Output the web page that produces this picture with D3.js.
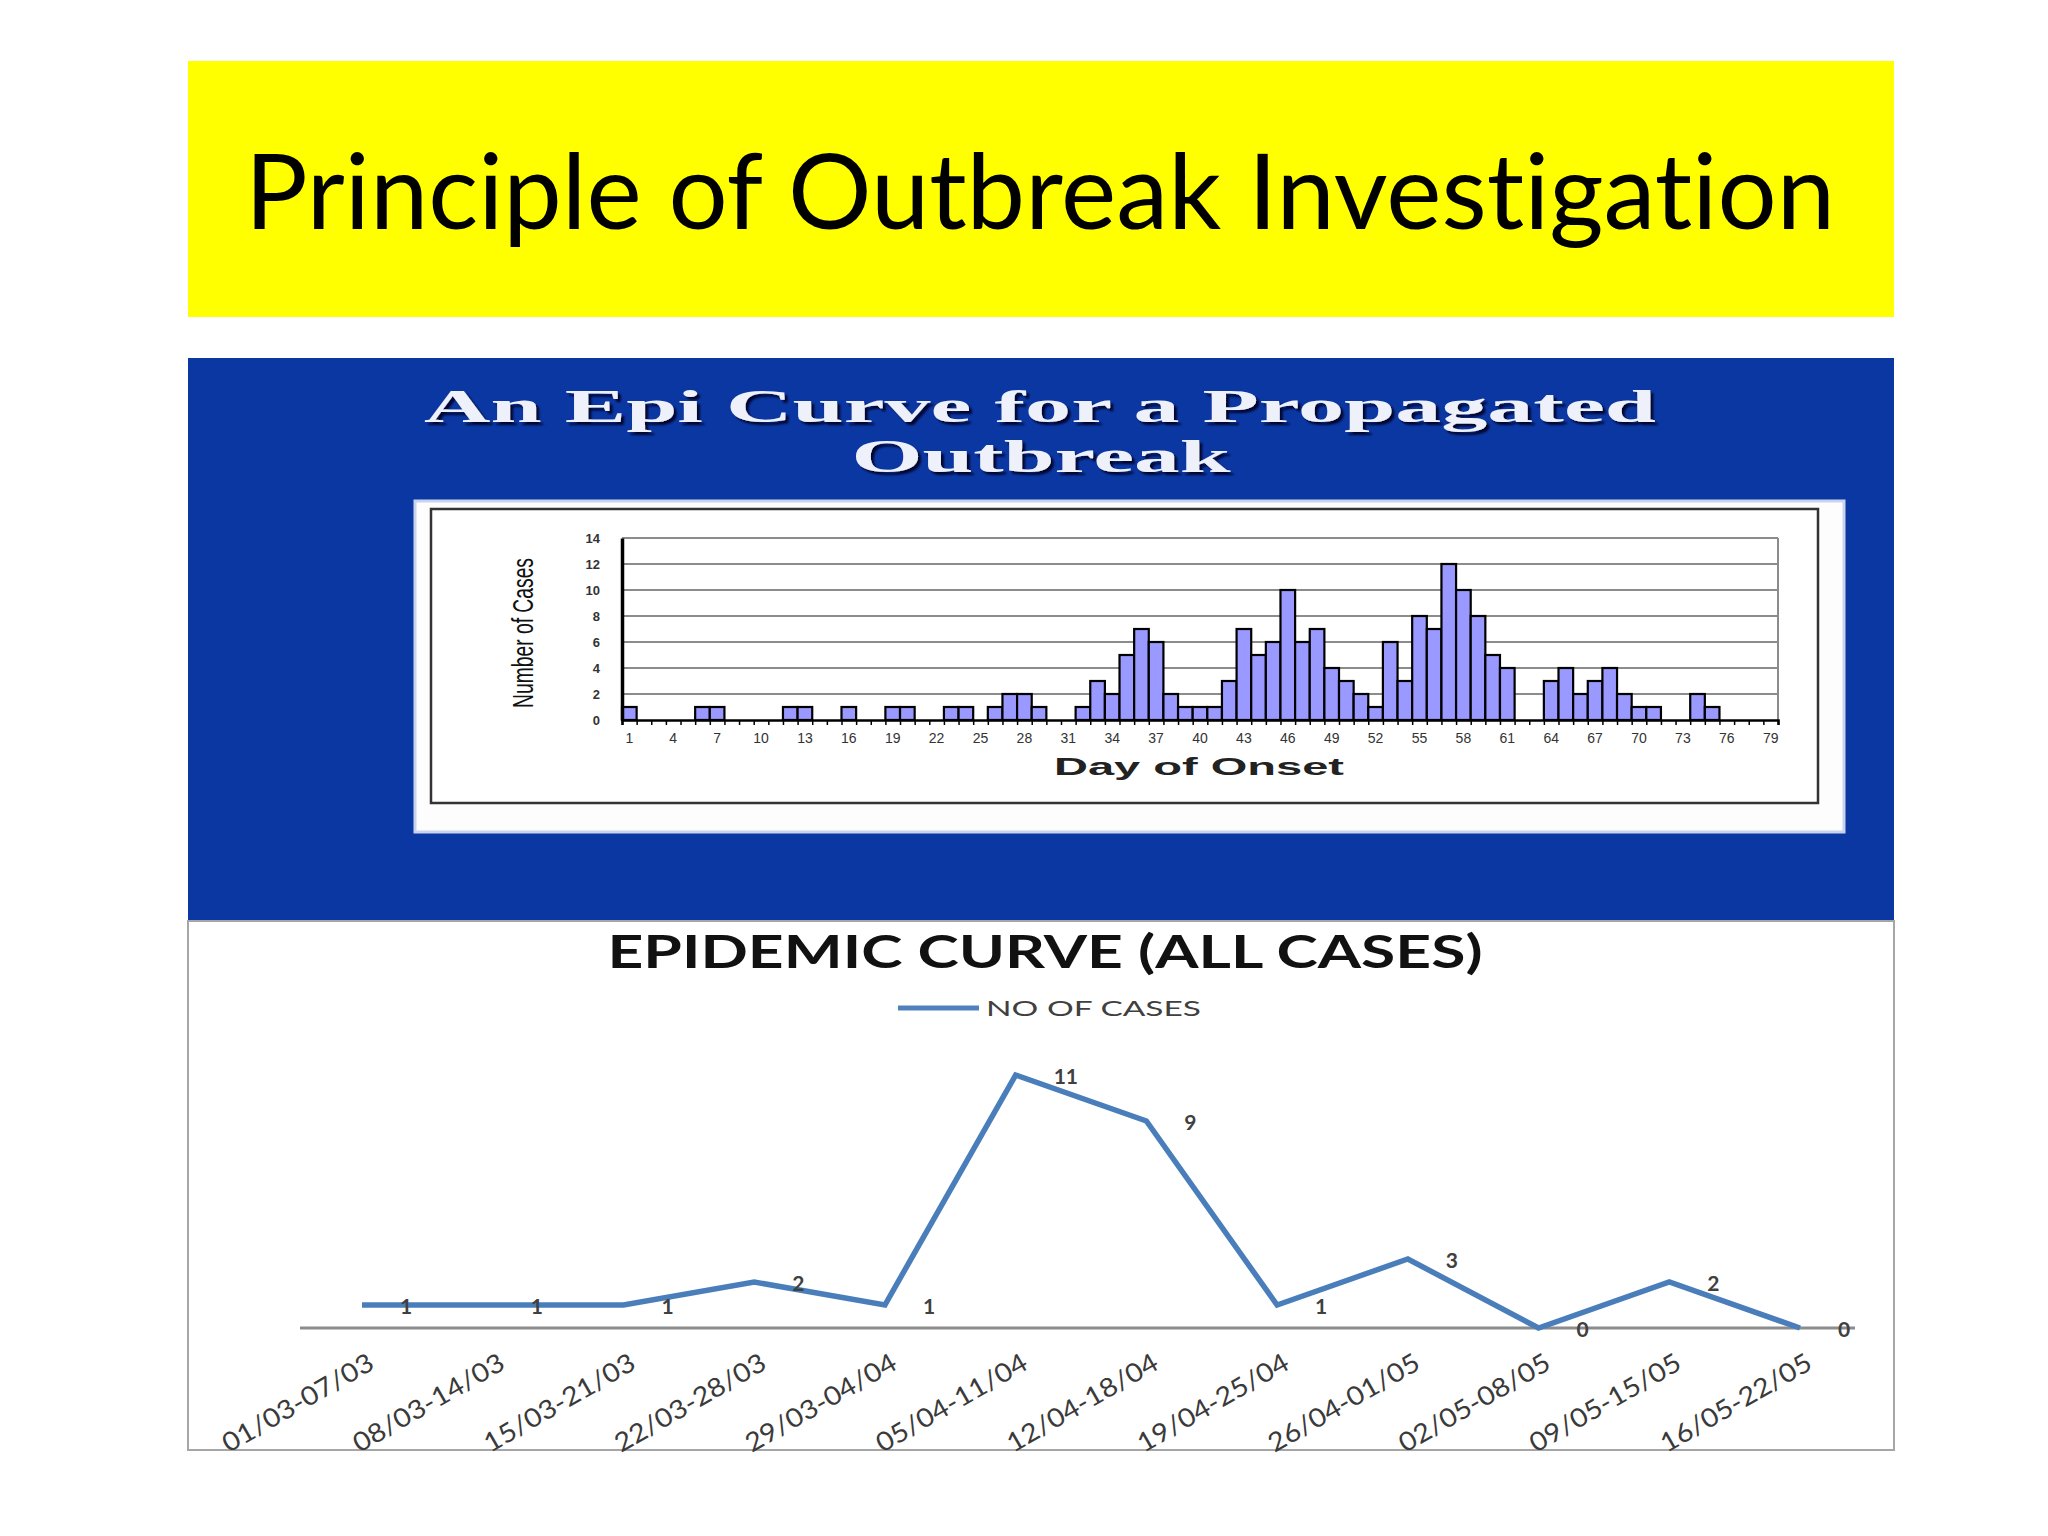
<!DOCTYPE html>
<html>
<head>
<meta charset="utf-8">
<script src="https://cdn.jsdelivr.net/npm/d3@7"></script>
<style>
  body { margin: 0; background: #fff; }
  svg { display: block; }
  text { font-variant-ligatures: none; }
</style>
</head>
<body>
<script>
// --- data ---
var days = d3.range(1, 80);
var dayCases = [
  1, 0, 0, 0, 0, 1, 1, 0, 0, 0,
  0, 1, 1, 0, 0, 1, 0, 0, 1, 1,
  0, 0, 1, 1, 0, 1, 2, 2, 1, 0,
  0, 1, 3, 2, 5, 7, 6, 2, 1, 1,
  1, 3, 7, 5, 6, 10, 6, 7, 4, 3,
  2, 1, 6, 3, 8, 7, 12, 10, 8, 5,
  4, 0, 0, 3, 4, 2, 3, 4, 2, 1,
  1, 0, 0, 2, 1, 0, 0, 0, 0
];
var dayTickLabels = [1, 4, 7, 10, 13, 16, 19, 22, 25, 28, 31, 34, 37, 40, 43, 46, 49, 52, 55, 58, 61, 64, 67, 70, 73, 76, 79];
var caseTicks = [0, 2, 4, 6, 8, 10, 12, 14];

var weeks = ["01/03-07/03", "08/03-14/03", "15/03-21/03", "22/03-28/03", "29/03-04/04", "05/04-11/04",
             "12/04-18/04", "19/04-25/04", "26/04-01/05", "02/05-08/05", "09/05-15/05", "16/05-22/05"];
var weekCases = [1, 1, 1, 2, 1, 11, 9, 1, 3, 0, 2, 0];

var W = 2048, H = 1536;

var svg = d3.select("body").append("svg")
  .attr("width", W)
  .attr("height", H);

var defs = svg.append("defs");
defs.append("filter").attr("id", "shadow")
  .attr("x", "-5%").attr("y", "-20%").attr("width", "110%").attr("height", "150%")
  .append("feDropShadow")
  .attr("dx", 3).attr("dy", 3).attr("stdDeviation", 1.2)
  .attr("flood-color", "#000022").attr("flood-opacity", 0.9);

// --- slide title ---
svg.append("rect")
  .attr("x", 188).attr("y", 61).attr("width", 1706).attr("height", 256)
  .attr("fill", "#ffff00");

svg.append("text")
  .attr("x", 1040).attr("y", 229)
  .attr("text-anchor", "middle")
  .attr("font-family", "Lato, 'Open Sans', sans-serif")
  .attr("font-size", 104)
  .attr("textLength", 1590)
  .attr("lengthAdjust", "spacingAndGlyphs")
  .attr("fill", "#000")
  .text("Principle of Outbreak Investigation");

// --- blue panel with the bar epi curve ---
svg.append("rect")
  .attr("x", 188).attr("y", 358).attr("width", 1706).attr("height", 563)
  .attr("fill", "#0b37a3");

var blueTitle = svg.append("g")
  .attr("font-family", "'Liberation Serif', 'DejaVu Serif', serif")
  .attr("font-weight", "bold")
  .attr("font-size", 47)
  .attr("fill", "#eef0fa")
  .attr("text-anchor", "middle")
  .attr("filter", "url(#shadow)");

blueTitle.append("text")
  .attr("x", 1040).attr("y", 422)
  .attr("textLength", 1232)
  .attr("lengthAdjust", "spacingAndGlyphs")
  .text("An Epi Curve for a Propagated");

blueTitle.append("text")
  .attr("x", 1041).attr("y", 472)
  .attr("textLength", 379)
  .attr("lengthAdjust", "spacingAndGlyphs")
  .text("Outbreak");

svg.append("rect")
  .attr("x", 415).attr("y", 501).attr("width", 1429).attr("height", 331)
  .attr("fill", "#fdfdfd")
  .attr("stroke", "#c9d3ee").attr("stroke-width", 3);

svg.append("rect")
  .attr("x", 431).attr("y", 509).attr("width", 1387).attr("height", 294)
  .attr("fill", "#fff")
  .attr("stroke", "#333").attr("stroke-width", 2.5);

var bx0 = 622, bx1 = 1778, by0 = 720, by1 = 538;

var xb = d3.scaleBand()
  .domain(days)
  .range([bx0, bx1])
  .padding(0);

var yb = d3.scaleLinear()
  .domain([0, 14])
  .range([by0, by1]);

var bar = svg.append("g");

// gridlines
bar.selectAll("line.grid")
  .data(caseTicks.filter(function(d) { return d > 0; }))
  .enter()
  .append("line")
  .attr("class", "grid")
  .attr("x1", bx0).attr("x2", bx1)
  .attr("y1", function(d) { return yb(d); })
  .attr("y2", function(d) { return yb(d); })
  .attr("stroke", "#8c8c8c")
  .attr("stroke-width", 2);

bar.append("line")
  .attr("x1", bx1).attr("x2", bx1)
  .attr("y1", by1).attr("y2", by0)
  .attr("stroke", "#8c8c8c").attr("stroke-width", 2);

bar.selectAll("rect.bar")
  .data(dayCases)
  .enter()
  .append("rect")
  .attr("class", "bar")
  .attr("x", function(d, i) { return xb(days[i]); })
  .attr("y", function(d) { return yb(d); })
  .attr("width", xb.bandwidth())
  .attr("height", function(d) { return yb(0) - yb(d); })
  .attr("fill", "#9999ff")
  .attr("stroke", "#000")
  .attr("stroke-width", 2.2);

// x axis: tick marks between days, labels every third day
var xTickScale = d3.scaleLinear().domain([0, days.length]).range([bx0, bx1]);
bar.append("g")
  .attr("transform", "translate(0," + by0 + ")")
  .call(d3.axisBottom(xTickScale).tickValues(d3.range(0, days.length + 1)).tickSize(5).tickFormat(""))
  .call(function(g) {
    g.select(".domain").attr("stroke", "#000").attr("stroke-width", 2.5);
    g.selectAll(".tick line").attr("stroke", "#000").attr("stroke-width", 1.5);
  });

bar.append("g")
  .attr("transform", "translate(0," + by0 + ")")
  .call(d3.axisBottom(xb).tickValues(dayTickLabels).tickSize(0).tickPadding(13))
  .call(function(g) {
    g.select(".domain").remove();
    g.selectAll("text")
      .attr("font-family", "'Liberation Sans', Arial, sans-serif")
      .attr("font-size", 14)
      .attr("fill", "#333");
  });

bar.append("g")
  .attr("transform", "translate(" + bx0 + ",0)")
  .call(d3.axisLeft(yb).tickValues(caseTicks).tickSize(0).tickPadding(22))
  .call(function(g) {
    g.select(".domain").attr("stroke", "#000").attr("stroke-width", 3.5);
    g.selectAll("text")
      .attr("font-family", "'Liberation Sans', Arial, sans-serif")
      .attr("font-size", 13)
      .attr("font-weight", "bold")
      .attr("fill", "#333");
  });

bar.append("text")
  .attr("transform", "translate(533,633) rotate(-90)")
  .attr("text-anchor", "middle")
  .attr("font-family", "'Liberation Sans Narrow', 'Liberation Sans', sans-serif")
  .attr("font-size", 30)
  .attr("textLength", 150)
  .attr("lengthAdjust", "spacingAndGlyphs")
  .attr("fill", "#111")
  .text("Number of Cases");

bar.append("text")
  .attr("x", 1199).attr("y", 775)
  .attr("text-anchor", "middle")
  .attr("font-family", "'Liberation Sans', Arial, sans-serif")
  .attr("font-weight", "bold")
  .attr("font-size", 23)
  .attr("textLength", 290)
  .attr("lengthAdjust", "spacingAndGlyphs")
  .attr("fill", "#222")
  .text("Day of Onset");

// --- weekly line chart ---
svg.append("rect")
  .attr("x", 188).attr("y", 921).attr("width", 1706).attr("height", 529)
  .attr("fill", "#fff")
  .attr("stroke", "#a6a6a6").attr("stroke-width", 2);

svg.append("text")
  .attr("x", 1045).attr("y", 968)
  .attr("text-anchor", "middle")
  .attr("font-family", "Lato, 'Open Sans', sans-serif")
  .attr("font-weight", "bold")
  .attr("font-size", 46)
  .attr("textLength", 875)
  .attr("lengthAdjust", "spacingAndGlyphs")
  .attr("fill", "#111")
  .text("EPIDEMIC CURVE (ALL CASES)");

svg.append("line")
  .attr("x1", 898).attr("x2", 979)
  .attr("y1", 1008).attr("y2", 1008)
  .attr("stroke", "#4f81bd").attr("stroke-width", 5);

svg.append("text")
  .attr("x", 986).attr("y", 1016)
  .attr("font-family", "Lato, 'Open Sans', sans-serif")
  .attr("font-size", 22)
  .attr("textLength", 215)
  .attr("lengthAdjust", "spacingAndGlyphs")
  .attr("fill", "#404040")
  .text("NO OF CASES");

var xl = d3.scalePoint()
  .domain(weeks)
  .range([362, 1800]);

var yl = d3.scaleLinear()
  .domain([0, 12])
  .range([1328, 1052]);

svg.append("line")
  .attr("x1", 300).attr("x2", 1855)
  .attr("y1", yl(0)).attr("y2", yl(0))
  .attr("stroke", "#8c8c8c").attr("stroke-width", 3);

var line = d3.line()
  .x(function(d, i) { return xl(weeks[i]); })
  .y(function(d) { return yl(d); });

svg.append("path")
  .datum(weekCases)
  .attr("d", line)
  .attr("fill", "none")
  .attr("stroke", "#4a7ebb")
  .attr("stroke-width", 5.5)
  .attr("stroke-linejoin", "miter");

svg.selectAll("text.dlabel")
  .data(weekCases)
  .enter()
  .append("text")
  .attr("class", "dlabel")
  .attr("x", function(d, i) { return xl(weeks[i]) + 38; })
  .attr("y", function(d) { return yl(d) + 9; })
  .attr("font-family", "Lato, 'Open Sans', sans-serif")
  .attr("font-weight", "bold")
  .attr("font-size", 21)
  .attr("fill", "#404040")
  .text(function(d) { return d; });

svg.selectAll("text.wlabel")
  .data(weeks)
  .enter()
  .append("text")
  .attr("class", "wlabel")
  .attr("transform", function(d) { return "translate(" + (xl(d) + 14) + ",1368) rotate(-30)"; })
  .attr("text-anchor", "end")
  .attr("font-family", "Lato, 'Open Sans', sans-serif")
  .attr("font-size", 26)
  .attr("textLength", 170)
  .attr("lengthAdjust", "spacingAndGlyphs")
  .attr("fill", "#3a3a3a")
  .text(function(d) { return d; });
</script>
</body>
</html>
